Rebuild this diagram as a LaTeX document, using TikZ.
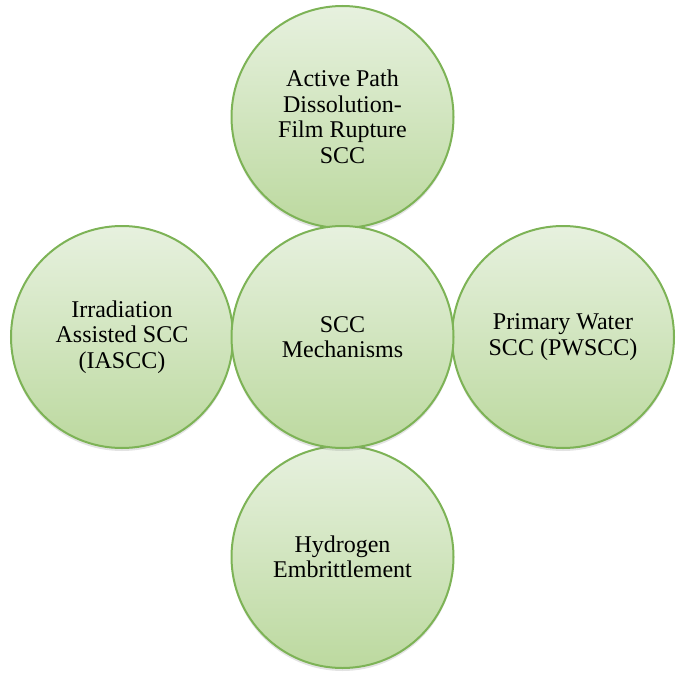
\documentclass[tikz,border=0pt]{standalone}
\usepackage{fontspec}
\setmainfont{Liberation Serif}
\usetikzlibrary{shadows}
\definecolor{gtop}{HTML}{E7F1DF}
\definecolor{gbot}{HTML}{BCD99F}
\definecolor{gline}{HTML}{7DB356}
\tikzset{
  bubble/.style={circle, minimum size=222pt, inner sep=0pt, draw=gline, line width=2pt,
    top color=gtop, bottom color=gbot, shading angle=0,
    drop shadow={opacity=0.22, shadow xshift=0pt, shadow yshift=-3pt, shadow scale=1.0},
    align=center, font=\fontsize{24}{25.5}\selectfont, text=black}
}
\begin{document}
\begin{tikzpicture}[x=1pt,y=-1pt]
\useasboundingbox (0,0) rectangle (685,680);
\node[bubble] (top) at (342.5,117) {Active Path\\Dissolution-\\Film Rupture\\SCC};
\node[bubble] (left) at (122,337) {Irradiation\\Assisted SCC\\(IASCC)};
\node[bubble] (right) at (563,337) {Primary Water\\SCC (PWSCC)};
\node[bubble] (bottom) at (342.5,557) {Hydrogen\\Embrittlement};
\node[bubble] (center) at (342.5,337) {SCC\\Mechanisms};
\end{tikzpicture}
\end{document}
